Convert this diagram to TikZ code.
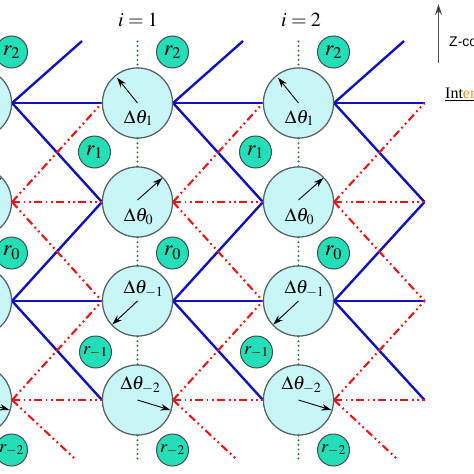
\documentclass[tikz,border=0pt]{standalone}
\usepackage{mathptmx}
\usepackage{fontspec}
\setmainfont{Liberation Serif}
\newfontfamily\sansf{Liberation Sans}
\usetikzlibrary{arrows.meta,calc}
\definecolor{cyanfill}{RGB}{200,245,245}
\definecolor{tealfill}{RGB}{36,222,184}
\definecolor{lineblue}{RGB}{16,16,190}
\definecolor{linered}{RGB}{235,20,20}
\definecolor{dotgreen}{RGB}{40,125,40}
\definecolor{rimgray}{RGB}{85,95,95}
\definecolor{tagorange}{RGB}{230,150,30}
\begin{document}
\begin{tikzpicture}[x=1pt,y=-1pt,
  bigc/.style={circle,draw=rimgray,fill=cyanfill,line width=1.1pt,minimum size=70pt,inner sep=0pt},
  smallc/.style={circle,draw=rimgray!80!black,fill=tealfill,line width=1pt,minimum size=32pt,inner sep=0pt},
  dlabel/.style={inner sep=0pt,font=\fontsize{19}{19}\selectfont},
  rlabel/.style={font=\fontsize{22}{22}\selectfont},
  rlabelsm/.style={font=\fontsize{18}{18}\selectfont},
  blueln/.style={draw=lineblue,line width=2.4pt},
  redln/.style={draw=linered,line width=2.1pt,dash pattern=on 8pt off 3.5pt on 1.8pt off 3.5pt on 1.8pt off 3.5pt},
  greendot/.style={draw=dotgreen,line width=2.2pt,line cap=round,dash pattern=on 0pt off 4.6pt},
  vec/.style={draw=black,line width=0.9pt,-{Stealth[length=10pt,width=6.5pt]}},
  head/.style={inner sep=0pt,font=\fontsize{20}{20}\selectfont}
]
\useasboundingbox (0,0) rectangle (474,474);
\clip (0,0) rectangle (474,474);

% virtual left points of the next (unseen) column
\coordinate (t1w3) at (424.5,103);
\coordinate (t0w3) at (424.5,202);
\coordinate (tm1w3) at (424.5,301);
\coordinate (tm2w3) at (424.5,400);

% circles (nodes) of the three columns
\foreach \c/\x in {0/-23.5,1/137.5,2/298.5}{
  \node[bigc] (t1c\c) at (\x,103) {};
  \node[bigc] (t0c\c) at (\x,202) {};
  \node[bigc] (tm1c\c) at (\x,301) {};
  \node[bigc] (tm2c\c) at (\x,400) {};
  \coordinate (t1w\c) at (t1c\c.west);
  \coordinate (t0w\c) at (t0c\c.west);
  \coordinate (tm1w\c) at (tm1c\c.west);
  \coordinate (tm2w\c) at (tm2c\c.west);
}

% connectors between columns
\foreach \i/\n in {0/1,1/2,2/3}{
  \coordinate (up\i) at ($(t1c\i.east)+(70,-62)$);
  \coordinate (dn\i) at ($(tm2c\i.east)+(62,58)$);
  \draw[blueln] (t1c\i.east) -- (up\i);
  \draw[blueln] (t1c\i.east) -- (t1w\n);
  \draw[blueln] (t1c\i.east) -- (t0w\n);
  \draw[blueln] (tm1c\i.east) -- (t0w\n);
  \draw[blueln] (tm1c\i.east) -- (tm1w\n);
  \draw[blueln] (tm1c\i.east) -- (tm2w\n);
  \draw[redln] (t0c\i.east) -- (t1w\n);
  \draw[redln] (t0c\i.east) -- (t0w\n);
  \draw[redln] (t0c\i.east) -- (tm1w\n);
  \draw[redln] (tm2c\i.east) -- (tm1w\n);
  \draw[redln] (tm2c\i.east) -- (tm2w\n);
  \draw[redln] (tm2c\i.east) -- (dn\i);
}

% redraw circles above the connectors
\foreach \c/\x in {0/-23.5,1/137.5,2/298.5}{
  \node[bigc] at (t1c\c) {};
  \node[bigc] at (t0c\c) {};
  \node[bigc] at (tm1c\c) {};
  \node[bigc] at (tm2c\c) {};
}

% vertical dotted links
\foreach \c in {1,2}{
  \coordinate (top\c) at ($(t1c\c.north)+(0,-26)$);
  \coordinate (bot\c) at ($(tm2c\c.south)+(0,26)$);
  \draw[greendot] (top\c) -- (t1c\c.north);
  \draw[greendot] (t1c\c.south) -- (t0c\c.north);
  \draw[greendot] (t0c\c.south) -- (tm1c\c.north);
  \draw[greendot] (tm1c\c.south) -- (tm2c\c.north);
  \draw[greendot] (tm2c\c.south) -- (bot\c);
}

% arrows and labels inside circles
\foreach \c/\x in {0/-23.5,1/137.5,2/298.5}{
  \draw[vec,shorten >=3pt] (t1c\c.center) -- (t1c\c.129);
  \draw[vec,shorten >=1pt] ($(t0c\c.center)+(0,-2)$) -- (t0c\c.44);
  \draw[vec,shorten >=1pt] (tm1c\c.center) -- (tm1c\c.223);
  \draw[vec,shorten >=1pt] (tm2c\c.center) -- (tm2c\c.343);
  \node[dlabel] (l1c\c) at (\x+1,118) {$\Delta\theta_1$};
  \node[dlabel] (l0c\c) at (\x+1,217) {$\Delta\theta_0$};
  \node[dlabel] (lm1c\c) at (\x+6,289) {$\Delta\theta_{-1}$};
  \node[dlabel] (lm2c\c) at (\x+3,385) {$\Delta\theta_{-2}$};
}

% small r circles
\foreach \c/\x in {0/-23.5,1/137.5,2/298.5}{
  \node[smallc,rlabel] (r2c\c) at (\x+35,52) {$r_2$};
  \node[smallc,rlabel] (r1c\c) at (\x-43,152) {$r_1$};
  \node[smallc,rlabel] (r0c\c) at (\x+35,253) {$r_0$};
  \node[smallc,rlabelsm] (rm1c\c) at (\x-42,352) {$r_{-1}$};
  \node[smallc,rlabelsm] (rm2c\c) at (\x+35,450) {$r_{-2}$};
}

% column headings
\node[head] (h1) at (138,20) {$i=1$};
\node[head] (h2) at (301,20) {$i=2$};

% axis arrow and side texts
\coordinate (zb) at (438.5,63);
\coordinate (zt) at (438.5,4);
\draw[draw=black!70,line width=1.1pt,-{Stealth[length=11pt,width=7pt,fill=black]}] (zb) -- (zt);
\node[anchor=west,inner sep=0pt,font=\sansf\fontsize{14}{14}\selectfont] (zlab) at (449,41) {Z-coordinate};
\node[anchor=base west,inner sep=0pt,font=\fontsize{16}{16}\selectfont] (intf) at (445,98) {\underline{Int\textcolor{tagorange}{erface}}};
\end{tikzpicture}
\end{document}
